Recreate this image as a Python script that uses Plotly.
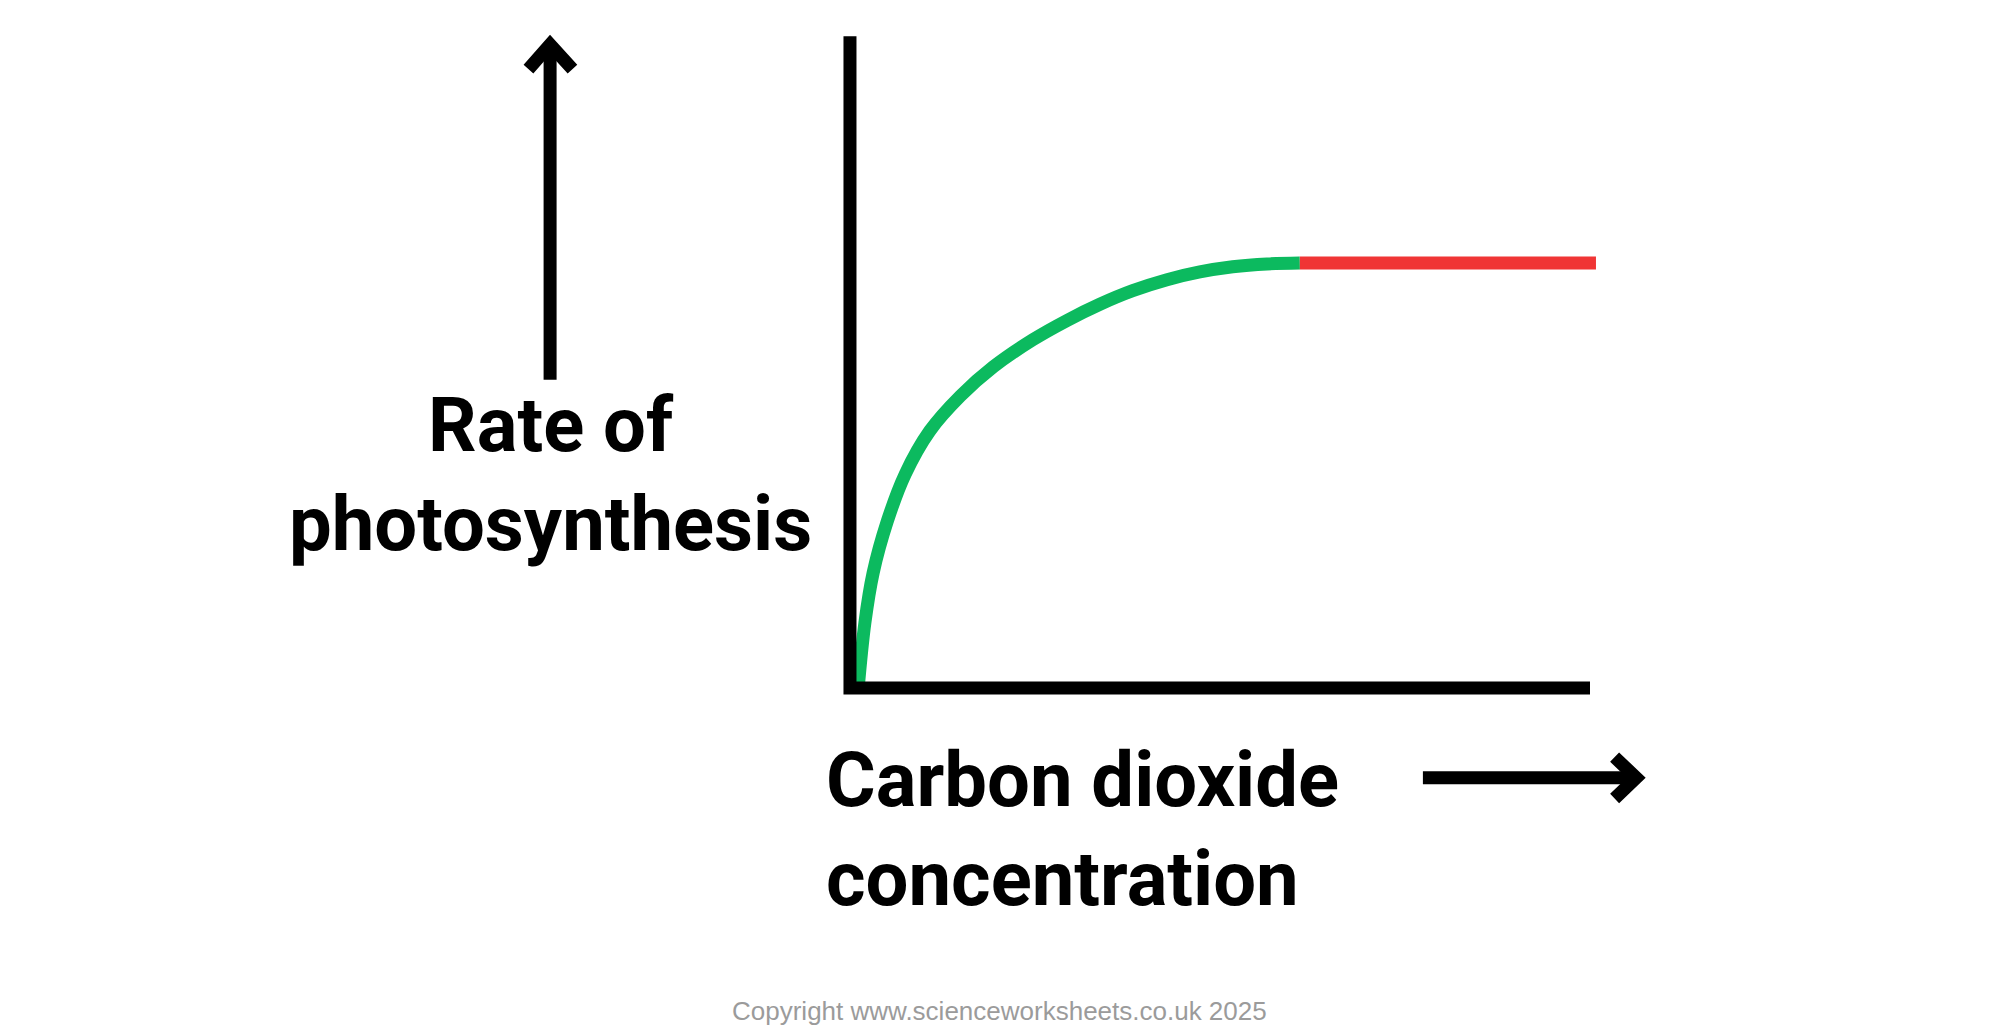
import plotly.graph_objects as go

# rate of photosynthesis vs CO2 concentration (arbitrary units)
co2 = [0.11, 0.20, 0.31, 0.50, 0.74, 1.07, 1.48, 1.92, 2.45,
       2.91, 3.35, 3.79, 4.25, 4.69, 5.13, 5.59, 6.03]
rate = [0.00, 1.01, 1.78, 2.58, 3.31, 3.98, 4.52, 4.97, 5.39,
        5.69, 5.94, 6.15, 6.32, 6.44, 6.52, 6.565, 6.58]

# limiting-factor plateau
plateau_co2 = [6.03, 10.0]
plateau_rate = [6.58, 6.58]

y_label = "Rate of<br>photosynthesis"
x_label = "Carbon dioxide<br>concentration"
credit = "Copyright www.scienceworksheets.co.uk 2025"

GREEN = "#0cba5f"
RED = "#f03535"
LW = 13
LABEL_FONT = dict(family="Roboto", size=76, color="black", weight="bold")

fig = go.Figure()

fig.add_trace(go.Scatter(x=co2, y=rate, mode="lines",
                         line=dict(color=GREEN, width=LW, shape="spline", smoothing=1.0)))
fig.add_trace(go.Scatter(x=plateau_co2, y=plateau_rate, mode="lines",
                         line=dict(color=RED, width=LW)))

# the two axes drawn by hand (thick black L)
fig.add_trace(go.Scatter(x=[0, 0, 9.92], y=[10.09, 0, 0], mode="lines",
                         line=dict(color="black", width=LW)))

# arrow beside the y label
fig.add_trace(go.Scatter(x=[-4.02, -4.02], y=[4.77, 9.96], mode="lines",
                         line=dict(color="black", width=LW)))
fig.add_trace(go.Scatter(x=[-4.31, -4.02, -3.72], y=[9.58, 9.96, 9.58], mode="lines",
                         line=dict(color="black", width=LW)))

# arrow beside the x label
fig.add_trace(go.Scatter(x=[7.68, 10.54], y=[-1.39, -1.39], mode="lines",
                         line=dict(color="black", width=LW)))
fig.add_trace(go.Scatter(x=[10.25, 10.54, 10.25], y=[-1.07, -1.39, -1.71], mode="lines",
                         line=dict(color="black", width=LW)))

fig.add_annotation(x=-4.01, y=3.30, text=y_label, showarrow=False,
                   xanchor="center", yanchor="middle", align="center", font=LABEL_FONT)
fig.add_annotation(x=-0.35, y=-2.19, text=x_label, showarrow=False,
                   xanchor="left", yanchor="middle", align="left", font=LABEL_FONT)
fig.add_annotation(x=2.01, y=-5.0, text=credit, showarrow=False,
                   xanchor="center", yanchor="middle",
                   font=dict(family="Liberation Sans", size=26, color="#9b9b9b"))

fig.update_layout(
    width=2000, height=1027,
    margin=dict(l=0, r=0, t=0, b=0),
    paper_bgcolor="white", plot_bgcolor="white",
    showlegend=False,
    xaxis=dict(range=[-11.394, 15.416], visible=False, fixedrange=True),
    yaxis=dict(range=[-5.248, 10.65], visible=False, fixedrange=True),
)

fig.write_html("out.html", config={"displayModeBar": False},
               post_script="document.body.style.margin='0';document.body.style.overflow='hidden';")
